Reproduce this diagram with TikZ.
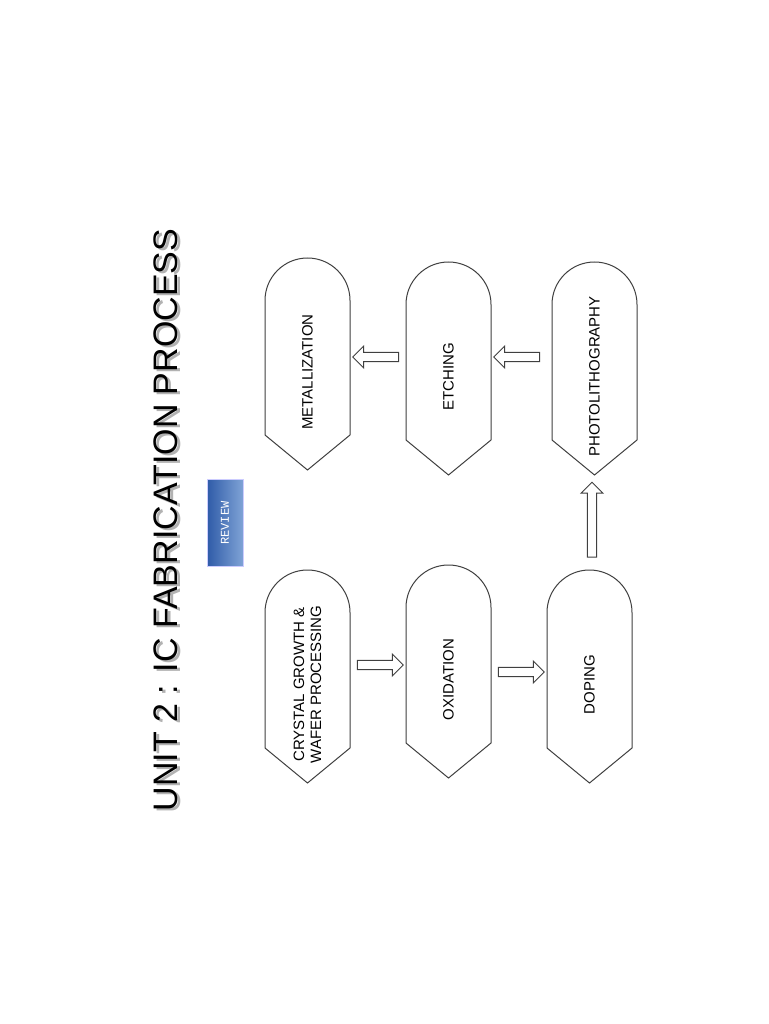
\documentclass[tikz,border=0pt]{standalone}
\usepackage{fontspec}
\setmainfont{Liberation Sans}
\newfontfamily\monof{Liberation Mono}
\usetikzlibrary{shapes.arrows}
\definecolor{rvtop}{HTML}{7FA3D6}
\definecolor{rvbot}{HTML}{2F5BA8}
\tikzset{
  shp/.style={draw=black!75,line width=1pt,fill=white},
  lbl/.style={font=\fontsize{15}{17}\selectfont,align=center},
  blk/.style={single arrow,draw=black!75,line width=0.9pt,fill=white,minimum width=22pt,single arrow head extend=2pt,inner sep=1pt,minimum height=46pt}
}
\newcommand{\pill}[5]{%
\draw[shp] (#2-42.5,-#4+35) -- (#2-42.5,-#3-42.5) arc[start angle=180,end angle=0,radius=42.5] -- (#2+42.5,-#4+35) -- (#2,-#4) -- cycle;
\node[rotate=90,lbl] (#1) at (#2,{-(#3+#4)/2-8}) {#5};}
\begin{document}
\begin{tikzpicture}[x=1pt,y=1pt]
\useasboundingbox (0,0) rectangle (768,-1024);
\fill[white] (0,0) rectangle (768,-1024);
\node[rotate=90,font=\fontsize{34}{36}\selectfont,text=black!30] at (169,-522) {UNIT 2 : IC FABRICATION PROCESS};
\node[rotate=90,font=\fontsize{34}{36}\selectfont] (title) at (166,-520) {UNIT 2 : IC FABRICATION PROCESS};
\node[rotate=90,minimum width=87pt,minimum height=36pt,left color=rvbot,right color=rvtop,draw=blue!20!white,text=white,font=\monof\fontsize{12}{14}\selectfont] (review) at (225,-523) {REVIEW};
\pill{metal}{307.5}{258}{470}{METALLIZATION}
\pill{etch}{448.5}{262}{475}{ETCHING}
\pill{photo}{594.5}{262}{475}{PHOTOLITHOGRAPHY}
\pill{crys}{307.5}{570}{783}{CRYSTAL GROWTH \&\\ WAFER PROCESSING}
\pill{oxid}{448.5}{565}{778}{OXIDATION}
\pill{dop}{589.5}{570}{783}{DOPING}
\node[blk,shape border rotate=180] (a1) at (378,-357) {};
\node[blk,shape border rotate=180] (a2) at (519,-357) {};
\node[blk] (a3) at (378,-665) {};
\node[blk] (a4) at (519,-672) {};
\node[blk,shape border rotate=90,minimum height=75pt] (a5) at (592,-522) {};
\end{tikzpicture}
\end{document}
